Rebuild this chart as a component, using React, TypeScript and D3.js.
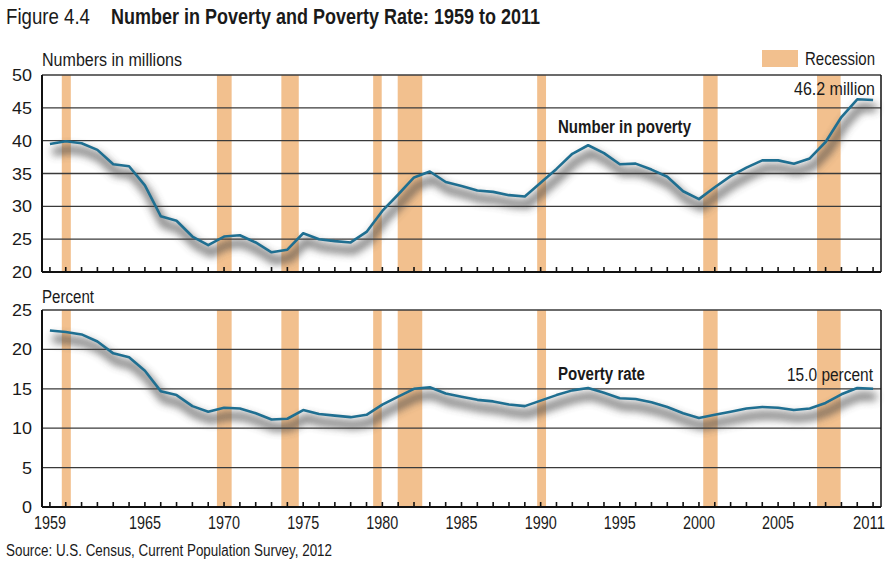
import * as d3 from "d3";

// poverty estimates, one value per year 1959-2011
const years = d3.range(1959, 2012);

const numberInPoverty = [
  39.5, 39.9, 39.6, 38.6, 36.4, 36.1, 33.2, 28.5, 27.8, 25.4,
  24.1, 25.4, 25.6, 24.5, 23.0, 23.4, 25.9, 25.0, 24.7, 24.5,
  26.1, 29.3, 31.8, 34.4, 35.3, 33.7, 33.1, 32.4, 32.2, 31.7,
  31.5, 33.6, 35.7, 38.0, 39.3, 38.1, 36.4, 36.5, 35.6, 34.5,
  32.3, 31.1, 32.9, 34.6, 35.9, 37.0, 37.0, 36.5, 37.3, 39.8,
  43.6, 46.3, 46.2,
];

const povertyRate = [
  22.4, 22.2, 21.9, 21.0, 19.5, 19.0, 17.3, 14.7, 14.2, 12.8,
  12.1, 12.6, 12.5, 11.9, 11.1, 11.2, 12.3, 11.8, 11.6, 11.4,
  11.7, 13.0, 14.0, 15.0, 15.2, 14.4, 14.0, 13.6, 13.4, 13.0,
  12.8, 13.5, 14.2, 14.8, 15.1, 14.5, 13.8, 13.7, 13.3, 12.7,
  11.9, 11.3, 11.7, 12.1, 12.5, 12.7, 12.6, 12.3, 12.5, 13.2,
  14.3, 15.1, 15.0,
];

// recession spans, in plotted year units
const recessions: [number, number][] = [
  [1959.75, 1960.32],
  [1969.55, 1970.48],
  [1973.62, 1974.72],
  [1979.42, 1979.96],
  [1980.97, 1982.52],
  [1989.78, 1990.34],
  [2000.27, 2001.18],
  [2007.46, 2008.95],
];

const yearLabels = [1959, 1965, 1970, 1975, 1980, 1985, 1990, 1995, 2000, 2005, 2011];
const topTicks = [20, 25, 30, 35, 40, 45, 50];
const bottomTicks = [0, 5, 10, 15, 20, 25];

const FONT = "'Liberation Sans', Arial, sans-serif";
const LINE = "#1f6f91";
const BAR = "#f2c08e";
const INK = "#1a1a1a";

const W = 895;
const H = 563;
const left = 42;
const right = 881;

const x = d3.scaleLinear().domain([1958.5, 2011.5]).range([left, right]);

// condensed text: the font is squeezed into a fixed width
function Label(props: {
  x: number;
  y: number;
  w: number;
  size: number;
  bold?: boolean;
  anchor?: "start" | "middle" | "end";
  children: string | number;
}) {
  return (
    <text
      x={props.x}
      y={props.y}
      fontSize={props.size}
      fontWeight={props.bold ? "bold" : "normal"}
      textAnchor={props.anchor ?? "start"}
      textLength={props.w}
      lengthAdjust="spacingAndGlyphs"
      fill={INK}
    >
      {props.children}
    </text>
  );
}

type PanelProps = {
  id: string;
  values: number[];
  y: d3.ScaleLinear<number, number>;
  ticks: number[];
};

function Panel({ id, values, y, ticks }: PanelProps) {
  const [bottom, top] = y.range();
  const line = d3
    .line<number>()
    .x((_, i) => x(years[i]))
    .y((d) => y(d));
  const path = line(values) ?? "";
  return (
    <g>
      {recessions.map(([a, b], i) => (
        <rect key={i} x={x(a)} y={top} width={x(b) - x(a)} height={bottom - top} fill={BAR} />
      ))}
      {ticks.map((t) => (
        <g key={t}>
          <line x1={left} x2={right} y1={y(t)} y2={y(t)} stroke="#3a3a3a" strokeWidth={1.3} />
          <Label x={32} y={y(t) + 6} w={t < 10 ? 10 : 20} size={17} anchor="end">
            {t}
          </Label>
        </g>
      ))}
      {years.map((yr) => (
        <line key={yr} x1={x(yr)} x2={x(yr)} y1={bottom} y2={bottom - 5} stroke="#111" strokeWidth={1.6} />
      ))}
      <path
        d={path}
        fill="none"
        stroke="#444"
        strokeWidth={7}
        transform="translate(3,8)"
        filter={`url(#shadow-${id})`}
        opacity={0.8}
      />
      <path d={path} fill="none" stroke={LINE} strokeWidth={2.6} strokeLinejoin="round" />
      <line x1={left} x2={left} y1={top} y2={bottom} stroke="#111" strokeWidth={2} />
      <line x1={right} x2={right} y1={top} y2={bottom} stroke="#111" strokeWidth={1.5} />
      <line x1={left} x2={right} y1={bottom} y2={bottom} stroke="#111" strokeWidth={2} />
    </g>
  );
}

export default function App() {
  const yTop = d3.scaleLinear().domain([20, 50]).range([272, 75]);
  const yBottom = d3.scaleLinear().domain([0, 25]).range([507, 310]);

  return (
    <svg
      width={W}
      height={H}
      style={{ position: "absolute", left: 0, top: 0, background: "#fff" }}
      fontFamily={FONT}
    >
      <defs>
        {["top", "bottom"].map((id) => (
          <filter key={id} id={`shadow-${id}`} x="-10%" y="-30%" width="120%" height="160%">
            <feGaussianBlur stdDeviation={4} />
          </filter>
        ))}
      </defs>

      <Label x={6} y={24} w={84} size={22}>
        Figure 4.4
      </Label>
      <Label x={111} y={24} w={429} size={22} bold>
        Number in Poverty and Poverty Rate: 1959 to 2011
      </Label>

      <rect x={762} y={50} width={36} height={17} fill={BAR} />
      <Label x={805} y={65} w={70} size={19}>
        Recession
      </Label>

      <Label x={42} y={66} w={140} size={18}>
        Numbers in millions
      </Label>
      <Label x={42} y={303} w={52} size={18}>
        Percent
      </Label>

      <Panel id="top" values={numberInPoverty} y={yTop} ticks={topTicks} />
      <Panel id="bottom" values={povertyRate} y={yBottom} ticks={bottomTicks} />

      <Label x={558} y={133} w={133} size={18} bold>
        Number in poverty
      </Label>
      <Label x={875} y={95} w={81} size={18} anchor="end">
        46.2 million
      </Label>
      <Label x={558} y={380} w={87} size={18} bold>
        Poverty rate
      </Label>
      <Label x={873} y={381} w={86} size={18} anchor="end">
        15.0 percent
      </Label>

      {yearLabels.map((yr) => (
        <Label
          key={yr}
          x={yr === 2011 ? 885 : x(yr)}
          y={529}
          w={32}
          size={19}
          anchor={yr === 2011 ? "end" : "middle"}
        >
          {yr}
        </Label>
      ))}

      <Label x={6} y={556} w={326} size={16}>
        Source: U.S. Census, Current Population Survey, 2012
      </Label>
    </svg>
  );
}
